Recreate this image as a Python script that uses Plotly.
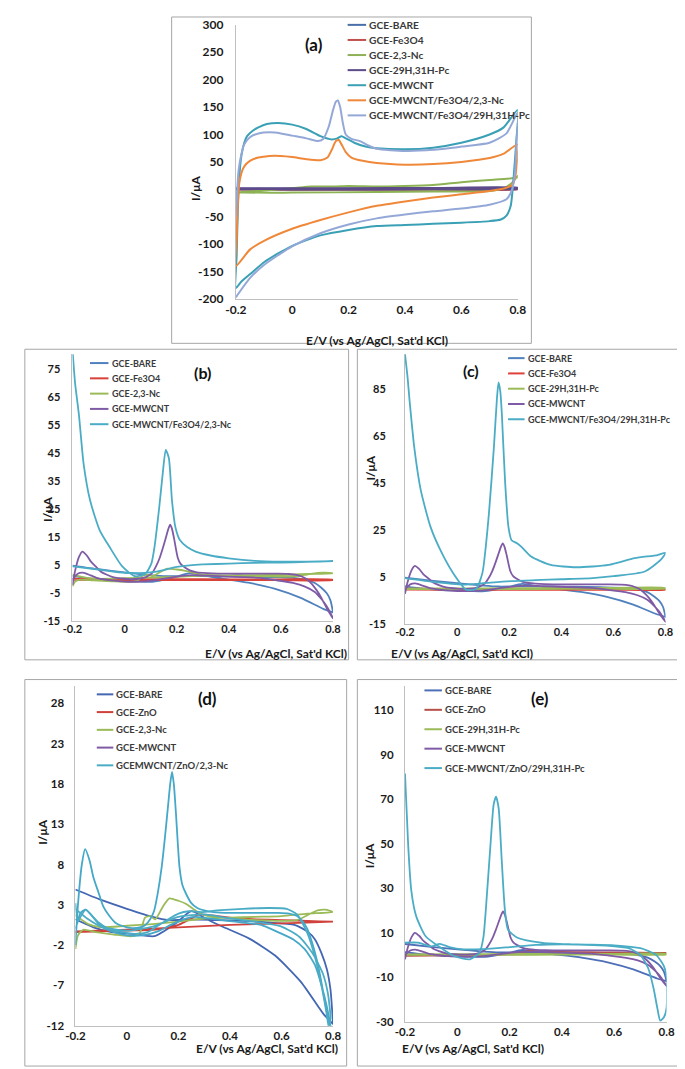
import plotly.graph_objects as go

W, H = 685, 1069

# ---------------- tick labels ----------------
X_TICKS = [-0.2, 0, 0.2, 0.4, 0.6, 0.8]
X_TICK_TEXT = ["-0.2", "0", "0.2", "0.4", "0.6", "0.8"]
Y_TICKS_A = [-200, -150, -100, -50, 0, 50, 100, 150, 200, 250, 300]
Y_TICKS_B = [-15, -5, 5, 15, 25, 35, 45, 55, 65, 75]
Y_TICKS_C = [-15, 5, 25, 45, 65, 85]
Y_TICKS_D = [-12, -7, -2, 3, 8, 13, 18, 23, 28]
Y_TICKS_E = [-30, -10, 10, 30, 50, 70, 90, 110]

# ---------------- panel (a) ----------------
A_BARE_E = [-0.2, 0.0, 0.2, 0.4, 0.6, 0.8, 0.8, 0.6, 0.4, 0.2, 0.0, -0.2]
A_BARE_I = [1.0, 1.0, 1.5, 1.5, 1.5, 2.5, 1.0, -0.5, -1.0, -1.0, -1.0, -0.5]

A_FE3O4_E = [-0.2, 0.2, 0.5, 0.8, 0.8, 0.5, 0.2, -0.2]
A_FE3O4_I = [0.5, 0.5, 0.8, 1.0, 0.0, -0.5, -0.5, -0.3]

A_NC_E = [-0.2, -0.15, -0.1, -0.05, 0.0, 0.07, 0.15, 0.2, 0.3, 0.4, 0.5, 0.6, 0.7, 0.8,
          0.8, 0.78, 0.75, 0.7, 0.5, 0.3, 0.0, -0.2]
A_NC_I = [-6, -4, -2, 0, 2, 5, 5, 6, 5, 6, 8, 13, 17, 22,
          25, 12, 2, -3, -4, -5, -6, -6]

A_PC_E = [-0.2, 0.2, 0.5, 0.8, 0.8, 0.5, 0.2, -0.2]
A_PC_I = [1.5, 1.5, 2.0, 2.5, 1.5, 1.0, 1.0, 1.0]

A_MWCNT_E = [-0.2, -0.197, -0.193, -0.188, -0.18, -0.17, -0.16, -0.14, -0.12, -0.09, -0.05,
             0.0, 0.05, 0.1, 0.14, 0.16, 0.175, 0.19, 0.22, 0.26, 0.3, 0.4, 0.5, 0.6, 0.7,
             0.75, 0.8, 0.795, 0.785, 0.775, 0.76, 0.74, 0.7, 0.6, 0.5, 0.4, 0.3, 0.2, 0.1,
             0.0, -0.05, -0.1, -0.15, -0.18, -0.2]
A_MWCNT_I = [-180, -120, -40, 20, 62, 85, 97, 107, 113, 119, 121,
             118, 110, 97, 91, 93, 97, 93, 85, 78, 75, 73, 76, 85, 100,
             113, 145, 90, 20, -30, -48, -55, -58, -61, -63, -65, -67, -74, -84,
             -103, -117, -133, -155, -168, -180]

A_FENC_E = [-0.2, -0.197, -0.193, -0.188, -0.18, -0.17, -0.15, -0.12, -0.08, -0.04, 0.0,
            0.05, 0.1, 0.125, 0.14, 0.155, 0.165, 0.175, 0.19, 0.21, 0.25, 0.3, 0.4, 0.5,
            0.6, 0.7, 0.75, 0.8, 0.797, 0.79, 0.78, 0.76, 0.7, 0.6, 0.5, 0.4, 0.3, 0.2,
            0.1, 0.0, -0.1, -0.15, -0.2]
A_FENC_I = [-140, -90, -30, 10, 30, 42, 52, 58, 61, 61, 59,
            55, 53, 58, 72, 88, 90, 82, 68, 58, 52, 48, 45, 46,
            50, 57, 65, 82, 50, 20, 8, 3, -3, -9, -15, -22, -30, -42,
            -56, -72, -94, -110, -140]

A_FEPC_E = [-0.2, -0.195, -0.19, -0.18, -0.17, -0.15, -0.12, -0.08, -0.04, 0.0, 0.05, 0.09,
            0.11, 0.13, 0.145, 0.155, 0.162, 0.17, 0.18, 0.19, 0.21, 0.24, 0.27, 0.3, 0.4,
            0.5, 0.6, 0.7, 0.76, 0.8, 0.795, 0.79, 0.78, 0.76, 0.7, 0.6, 0.5, 0.4, 0.3,
            0.2, 0.1, 0.0, -0.1, -0.15, -0.2]
A_FEPC_I = [-50, 0, 35, 65, 82, 95, 102, 104, 102, 98, 93, 88,
            92, 115, 145, 160, 162, 150, 120, 100, 92, 88, 80, 74, 70,
            72, 78, 85, 102, 140, 80, 30, 0, -18, -28, -35, -40, -46, -53,
            -64, -80, -104, -138, -162, -197]

# ---------------- shared electrodes, panels (b)-(e) ----------------
BARE_E = [-0.2, -0.1, 0.0, 0.1, 0.16, 0.25, 0.35, 0.45, 0.55, 0.65, 0.7, 0.73, 0.755, 0.776,
          0.79, 0.8, 0.8, 0.764, 0.676, 0.575, 0.475, 0.37, 0.31, 0.25, 0.19, 0.106, 0.02,
          -0.06, -0.13, -0.2]
BARE_I = [4.9, 3.6, 2.5, 1.5, 1.1, 1.2, 1.1, 1.0, 0.8, 0.5, -0.3, -1.3, -3.0, -5.0,
          -7.5, -11.8, -11.8, -10.6, -6.6, -3.3, -1.2, 0.3, 1.2, 2.2, 0.7, -0.9, -0.6,
          -0.4, 0.2, 1.2]

MWCNT_E = [-0.2, -0.19, -0.175, -0.162, -0.145, -0.13, -0.11, -0.092, -0.07, -0.042, 0.0,
           0.021, 0.05, 0.072, 0.09, 0.106, 0.12, 0.135, 0.148, 0.16, 0.168, 0.175, 0.182,
           0.19, 0.204, 0.215, 0.229, 0.25, 0.273, 0.3, 0.336, 0.4, 0.462, 0.52, 0.587,
           0.63, 0.66, 0.68, 0.7, 0.726, 0.745, 0.764, 0.78, 0.79, 0.8,
           0.79, 0.775, 0.757, 0.73, 0.69, 0.646, 0.58, 0.52, 0.45, 0.39, 0.32, 0.26,
           0.22, 0.17, 0.12, 0.06, 0.0, -0.05, -0.1, -0.13, -0.16, -0.18, -0.19, -0.2]
MWCNT_I = [-2.0, 3.0, 8.0, 9.9, 8.5, 6.4, 4.5, 2.8, 1.7, 0.7, 0.2,
           0.1, 0.2, 0.5, 1.2, 2.3, 4.5, 7.7, 11.5, 15.4, 18.0, 19.5, 18.0,
           14.5, 7.7, 5.5, 4.4, 3.2, 2.6, 2.3, 2.1, 2.0, 2.0, 2.0, 2.0,
           1.9, 1.6, 1.0, 0.0, -2.5, -5.0, -8.2, -11.0, -12.5, -14.0,
           -12.0, -9.5, -7.2, -4.5, -2.5, -1.3, -0.3, 0.5, 0.8, 1.0, 1.3, 1.5,
           1.2, 0.5, -0.3, -0.8, -0.8, -0.4, 0.3, 1.4, 2.4, 2.0, 1.0, 0.0]

FE3O4_E = [-0.2, 0.0, 0.2, 0.4, 0.6, 0.8, 0.8, 0.6, 0.4, 0.2, 0.0, -0.2]
FE3O4_I = [0.2, 0.1, 0.1, 0.0, 0.0, -0.1, -0.3, -0.3, -0.3, -0.3, -0.3, -0.2]

NC_E = [-0.2, -0.19, -0.17, -0.12, -0.05, 0.02, 0.05, 0.07, 0.09, 0.11, 0.14, 0.165, 0.2,
        0.23, 0.27, 0.3, 0.4, 0.5, 0.6, 0.66, 0.7, 0.74, 0.77, 0.8,
        0.7, 0.6, 0.5, 0.4, 0.3, 0.2, 0.1, 0.0, -0.1, -0.15, -0.2]
NC_I = [-2.5, -0.8, -0.1, -0.4, -0.7, -0.9, -0.5, 1.4, 1.6, 1.2, 2.8, 3.8, 3.5,
        3.1, 2.2, 1.7, 1.3, 1.1, 1.0, 1.1, 1.7, 2.3, 2.4, 2.1,
        1.9, 1.6, 1.5, 1.4, 1.3, 0.9, 0.6, 0.4, 0.2, 0.6, 1.7]

PC_E = [-0.2, 0.0, 0.2, 0.4, 0.6, 0.8, 0.8, 0.6, 0.4, 0.2, 0.0, -0.2]
PC_I = [0.2, 0.3, 0.4, 0.5, 0.5, 0.5, 0.2, 0.1, 0.1, 0.0, 0.0, 0.0]

ZNO_E = [-0.2, -0.1, 0.0, 0.1, 0.15, 0.2, 0.25, 0.28, 0.32, 0.4, 0.5, 0.6, 0.7, 0.8,
         0.8, 0.6, 0.4, 0.2, 0.0, -0.2]
ZNO_I = [-0.4, -0.3, -0.2, -0.1, 0.1, 0.5, 1.3, 1.8, 1.7, 1.4, 1.2, 1.1, 1.0, 0.9,
         0.9, 0.7, 0.5, 0.2, -0.1, -0.3]

# ---------------- composites ----------------
B_COMP_E = [-0.2, -0.19, -0.175, -0.157, -0.132, -0.095, -0.058, -0.009, 0.04, 0.08, 0.103,
            0.115, 0.133, 0.146, 0.158, 0.17, 0.182, 0.195, 0.213, 0.24, 0.275, 0.33, 0.4,
            0.5, 0.6, 0.7, 0.8, 0.7, 0.6, 0.5, 0.4, 0.3, 0.25, 0.2, 0.15, 0.1, 0.05, 0.0,
            -0.1, -0.2]
B_COMP_I = [82, 70, 58.5, 41, 28, 17.4, 11.6, 4.6, 1.1, 2.0, 5.7,
            11.7, 25.7, 37.4, 46.2, 43.2, 28, 18.6, 13.9, 11.5, 9.8, 8.5, 7.5,
            6.6, 6.3, 6.3, 6.5, 6.2, 6.0, 5.9, 5.6, 5.3, 5.0, 4.4, 3.3, 2.5, 2.2, 2.3,
            3.5, 4.6]

C_COMP_E = [-0.2, -0.19, -0.183, -0.164, -0.139, -0.102, -0.064, -0.015, 0.035, 0.072,
            0.097, 0.11, 0.122, 0.141, 0.153, 0.159, 0.166, 0.172, 0.184, 0.197, 0.209,
            0.23, 0.247, 0.284, 0.359, 0.458, 0.582, 0.682, 0.769, 0.8,
            0.781, 0.72, 0.6, 0.52, 0.4, 0.3, 0.209, 0.1, 0.023, -0.1, -0.2]
C_COMP_I = [100, 90, 81, 60, 41.9, 26.5, 16.6, 6.8, -0.2, 0.0,
            6.8, 18, 32, 60, 81.3, 88, 84, 74, 46, 26.5, 20.8,
            19.5, 18, 13.9, 10.3, 9.3, 10.3, 13.2, 14.5, 15.5,
            12.4, 7.5, 5.5, 4.7, 4.2, 3.8, 3.4, 2.5, 1.9, 3.2, 4.7]

D_COMP_E = [-0.2, -0.19, -0.175, -0.16, -0.14, -0.11, -0.07, -0.02, 0.03, 0.08, 0.12, 0.16,
            0.2, 0.24, 0.29, 0.35, 0.45, 0.55, 0.62, 0.66, 0.7, 0.73, 0.755, 0.775, 0.785,
            0.79, 0.78, 0.76, 0.72, 0.67, 0.6, 0.5, 0.4, 0.3, 0.2, 0.1, 0.0, -0.1, -0.15,
            -0.2]
D_COMP_I = [3.2, 1.0, 1.8, 2.4, 1.8, 0.8, 0.0, -0.4, -0.6, -0.4, 0.4, 1.2,
            1.9, 2.2, 2.1, 2.3, 2.5, 2.6, 2.5, 1.8, -0.5, -3.5, -7.0, -10.5, -12.5,
            -11.0, -8.0, -5.5, -3.0, -1.0, 0.3, 0.9, 1.3, 1.8, 1.5, 0.3, -0.2, 0.3, 1.2,
            2.5]

E_COMP_E = [-0.2, -0.188, -0.176, -0.157, -0.121, -0.073, -0.012, 0.048, 0.085, 0.1, 0.109,
            0.127, 0.139, 0.148, 0.158, 0.17, 0.182, 0.194, 0.23, 0.327, 0.448, 0.57, 0.655,
            0.7, 0.73, 0.751, 0.765, 0.776, 0.79, 0.8, 0.8, 0.79, 0.76, 0.7, 0.6, 0.5,
            0.4, 0.3, 0.2, 0.1, 0.024, -0.03, -0.067, -0.1, -0.15, -0.2]
E_COMP_I = [81.5, 49.7, 29, 17.3, 8.4, 4.0, -0.5, -2.0, 1.0, 8.0, 20.2,
            49.7, 67.5, 71.1, 66, 42.3, 20.2, 11.3, 7.7, 5.4, 4.7, 4.2, 3.0,
            0.0, -6.0, -15.3, -24, -29.5, -28, -24, -10, -5, 0.0, 3.0, 4.3, 4.6,
            4.8, 4.5, 3.5, 2.6, 2.5, 3.5, 5.0, 3.8, 5.5, 5.5]


# ---------------- layout helpers (pixels -> paper) ----------------
def fx(p):
    return p / W


def fy(p):
    return 1 - p / H


def bold(v):
    return "<b>%s</b>" % v


FONT = "Lato"
TXT = "#1a1a1a"

panels = [
    dict(box=(157, 1, 527, 332), plot=(223, 9, 513, 287), yr=[-200, 300], yt=Y_TICKS_A,
         ystand=9, xstand=0, tfs=12,
         series=[(A_BARE_E, A_BARE_I, "#4A70AA", 2.0, "GCE-BARE", None),
                 (A_FE3O4_E, A_FE3O4_I, "#C0504D", 2.0, "GCE-Fe3O4", None),
                 (A_NC_E, A_NC_I, "#8DB255", 2.0, "GCE-2,3-Nc", None),
                 (A_PC_E, A_PC_I, "#5C4A8A", 2.6, "GCE-29H,31H-Pc", None),
                 (A_MWCNT_E, A_MWCNT_I, "#3AA0B5", 2.0, "GCE-MWCNT", None),
                 (A_FENC_E, A_FENC_I, "#F0883A", 2.0, "GCE-MWCNT/Fe3O4/2,3-Nc", None),
                 (A_FEPC_E, A_FEPC_I, "#94A8D8", 2.0, "GCE-MWCNT/Fe3O4/29H,31H-Pc", None)],
         leg=(338, 357, 358, 9, 15.3, 10.2),
         label=("(a)", 303, 16, 17), ylab=(172, 160), xlab=(368, 319)),
    dict(box=(6, 338, 339, 653), plot=(55, 343, 323, 614), yr=[-15, 80.3], yt=Y_TICKS_B,
         ystand=9, xstand=-3, tfs=11,
         series=[(BARE_E, BARE_I, "#4F81BD", 1.8, "GCE-BARE", None),
                 (FE3O4_E, FE3O4_I, "#D9413B", 1.8, "GCE-Fe3O4", None),
                 (NC_E, NC_I, "#9BBB59", 1.8, "GCE-2,3-Nc", None),
                 (MWCNT_E, MWCNT_I, "#7F5BA6", 1.8, "GCE-MWCNT", None),
                 (B_COMP_E, B_COMP_I, "#4BACC6", 1.8, "GCE-MWCNT/Fe3O4/2,3-Nc", None)],
         leg=(73, 92, 94, 352, 15.5, 9),
         label=("(b)", 178, 350, 16), ylab=(20, 500), xlab=(189, 647)),
    dict(box=(348, 338, 681, 653), plot=(397, 343, 665, 617), yr=[-15, 100], yt=Y_TICKS_C,
         ystand=16, xstand=-3, tfs=11,
         series=[(BARE_E, BARE_I, "#4F81BD", 1.8, "GCE-BARE", None),
                 (FE3O4_E, FE3O4_I, "#E0403A", 1.8, "GCE-Fe3O4", None),
                 (PC_E, PC_I, "#9BBB59", 1.8, "GCE-29H,31H-Pc", None),
                 (MWCNT_E, MWCNT_I, "#7F5BA6", 1.8, "GCE-MWCNT", None),
                 (C_COMP_E, C_COMP_I, "#4BACC6", 1.8, "GCE-MWCNT/Fe3O4/29H,31H-Pc", None)],
         leg=(503, 520, 521, 347, 15.5, 9),
         label=("(c)", 475, 348, 16), ylab=(362, 458), xlab=(531, 647)),
    dict(box=(6, 673, 337, 1065), plot=(58, 680, 323, 1024), yr=[-12, 30.1], yt=Y_TICKS_D,
         ystand=8, xstand=0, tfs=11.5,
         series=[(BARE_E, BARE_I, "#4467B3", 1.8, "GCE-BARE", None),
                 (ZNO_E, ZNO_I, "#D0413B", 1.8, "GCE-ZnO", None),
                 (NC_E, NC_I, "#9BBB59", 1.8, "GCE-2,3-Nc", None),
                 (MWCNT_E, MWCNT_I, "#46A8C8", 1.8, "GCE-MWCNT", "#7F5BA6"),
                 (D_COMP_E, D_COMP_I, "#4BACC6", 1.8, "GCEMWCNT/ZnO/2,3-Nc", None)],
         leg=(80, 97, 98, 688, 18, 9.5),
         label=("(d)", 182, 692, 17), ylab=(15, 843), xlab=(180, 1057)),
    dict(box=(348, 673, 679, 1065), plot=(397, 680, 666, 1020), yr=[-30, 120.6], yt=Y_TICKS_E,
         ystand=8, xstand=0, tfs=11.5,
         series=[(BARE_E, BARE_I, "#4F6FB8", 1.8, "GCE-BARE", None),
                 (ZNO_E, ZNO_I, "#B8504A", 1.8, "GCE-ZnO", None),
                 (PC_E, PC_I, "#9BBB59", 1.8, "GCE-29H,31H-Pc", None),
                 (MWCNT_E, MWCNT_I, "#7F5BA6", 1.8, "GCE-MWCNT", None),
                 (E_COMP_E, E_COMP_I, "#4BACC6", 1.8, "GCE-MWCNT/ZnO/29H,31H-Pc", None)],
         leg=(417, 435, 436, 684, 19.7, 9.5),
         label=("(e)", 547, 692, 17), ylab=(360, 867), xlab=(542, 1057)),
]

fig = go.Figure()
shapes, annots, axes = [], [], {}

for n, p in enumerate(panels, start=1):
    sfx = "" if n == 1 else str(n)
    x0, y0, x1, y1 = p["plot"]
    tf = dict(family=FONT, size=p["tfs"], color=TXT)
    axes["xaxis" + sfx] = dict(
        domain=[fx(x0), fx(x1)], range=[-0.2, 0.8], anchor="y" + sfx,
        tickvals=X_TICKS, ticktext=[bold(t) for t in X_TICK_TEXT], ticks="",
        showgrid=False, zeroline=False, showline=True, linecolor="#BFBFBF", linewidth=1,
        ticklabelstandoff=p["xstand"], tickfont=tf, fixedrange=True)
    axes["yaxis" + sfx] = dict(
        domain=[fy(y1), fy(y0)], range=p["yr"], anchor="x" + sfx,
        tickvals=p["yt"], ticktext=[bold(t) for t in p["yt"]], ticks="",
        showgrid=False, zeroline=False, showline=True, linecolor="#BFBFBF", linewidth=1,
        ticklabelstandoff=p["ystand"], tickfont=tf, fixedrange=True)

    lx0, lx1, ltx, ly0, ldy, lfs = p["leg"]
    for k, (e, i, col, lw, name, legcol) in enumerate(p["series"]):
        fig.add_trace(go.Scatter(x=e, y=i, mode="lines", name=name, showlegend=False,
                                 line=dict(color=col, width=lw, shape="spline", smoothing=0.6),
                                 xaxis="x" + sfx, yaxis="y" + sfx))
        yy = ly0 + k * ldy
        shapes.append(dict(type="line", xref="paper", yref="paper", x0=fx(lx0), x1=fx(lx1),
                           y0=fy(yy), y1=fy(yy), line=dict(color=legcol or col, width=2)))
        annots.append(dict(text=bold(name), xref="paper", yref="paper", x=fx(ltx), y=fy(yy),
                           xanchor="left", yanchor="middle", showarrow=False,
                           font=dict(family=FONT, size=lfs, color="#3a3a3a")))

    bx0, by0, bx1, by1 = p["box"]
    shapes.append(dict(type="rect", xref="paper", yref="paper", x0=fx(bx0), x1=fx(bx1),
                       y0=fy(by1), y1=fy(by0), line=dict(color="#A6A6A6", width=1)))

    txt, lbx, lby, lbs = p["label"]
    annots.append(dict(text=bold(txt), xref="paper", yref="paper", x=fx(lbx), y=fy(lby),
                       showarrow=False, font=dict(family=FONT, size=lbs, color="#111111")))
    annots.append(dict(text=bold("I/μA"), xref="paper", yref="paper", x=fx(p["ylab"][0]),
                       y=fy(p["ylab"][1]), textangle=-90, showarrow=False,
                       font=dict(family=FONT, size=12, color=TXT)))
    annots.append(dict(text=bold("E/V (vs Ag/AgCl, Sat'd KCl)"), xref="paper", yref="paper",
                       x=fx(p["xlab"][0]), y=fy(p["xlab"][1]), showarrow=False,
                       font=dict(family=FONT, size=12, color=TXT)))

fig.update_layout(width=W, height=H, margin=dict(l=0, r=0, t=0, b=0),
                  paper_bgcolor="white", plot_bgcolor="white", showlegend=False,
                  shapes=shapes, annotations=annots, **axes)

fig.write_html("out.html")
